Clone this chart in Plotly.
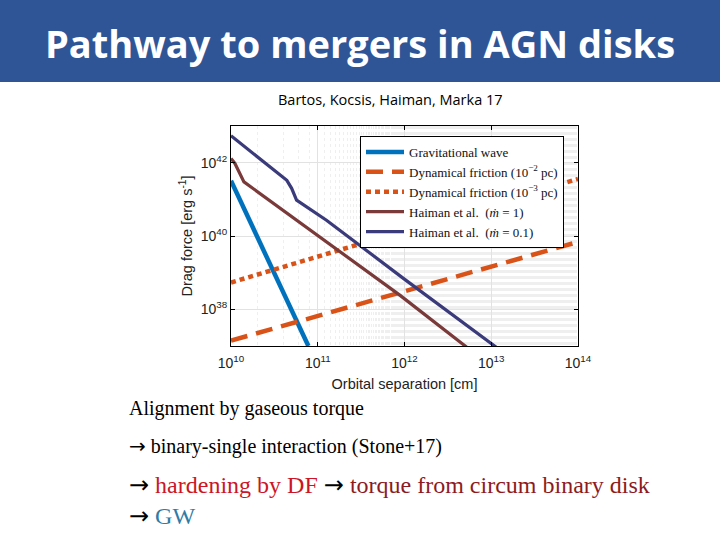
import plotly.graph_objects as go

# orbital separation [cm] and drag force [erg/s]
gw_sep = [1.0e10, 7.8e10]
gw_force = [3.2e41, 1.0e37]

df2_sep = [1.0e10, 1.0e14]
df2_force = [1.4e37, 6.9e39]

df3_sep = [1.0e10, 1.0e14]
df3_force = [5.4e38, 3.6e41]

haiman1_sep = [1.0e10, 1.11e10, 1.41e10, 8.9e11, 5.3e12]
haiman1_force = [1.3e42, 9.5e41, 3.0e41, 2.4e38, 9.0e36]

haiman01_sep = [1.0e10, 4.4e10, 5.0e10, 5.7e10, 1.26e11, 9.7e11, 1.16e13]
haiman01_force = [5.4e42, 3.3e41, 2.0e41, 9.5e40, 2.7e40, 7.0e38, 9.0e36]

xticks = [1e10, 1e11, 1e12, 1e13, 1e14]
xtick_text = ["10<sup>10</sup>", "10<sup>11</sup>", "10<sup>12</sup>", "10<sup>13</sup>", "10<sup>14</sup>"]
yticks = [1e38, 1e40, 1e42]
ytick_text = ["10<sup>38</sup>", "10<sup>40</sup>", "10<sup>42</sup>"]

names = ["Gravitational wave",
         "Dynamical friction (10<sup>−2</sup> pc)",
         "Dynamical friction (10<sup>−3</sup> pc)",
         "Haiman et al.  (<i>ṁ</i> = 1)",
         "Haiman et al.  (<i>ṁ</i> = 0.1)"]

fig = go.Figure()
fig.add_trace(go.Scatter(x=gw_sep, y=gw_force, mode="lines", name=names[0],
                         line=dict(color="#0072BD", width=4.5)))
fig.add_trace(go.Scatter(x=df2_sep, y=df2_force, mode="lines", name=names[1],
                         line=dict(color="#D95319", width=4.5, dash="17px,9px")))
fig.add_trace(go.Scatter(x=df3_sep, y=df3_force, mode="lines", name=names[2],
                         line=dict(color="#D95319", width=4.5, dash="5px,4px")))
fig.add_trace(go.Scatter(x=haiman1_sep, y=haiman1_force, mode="lines", name=names[3],
                         line=dict(color="#7A3A3A", width=3.2)))
fig.add_trace(go.Scatter(x=haiman01_sep, y=haiman01_force, mode="lines", name=names[4],
                         line=dict(color="#3B3B7C", width=3.2)))

W, H = 720, 540
x0, x1 = 231 / W, 578 / W
y0, y1 = 1 - 346 / H, 1 - 126 / H

axis_font = dict(family="Liberation Sans", size=14, color="#222222")
fig.update_xaxes(type="log", range=[10, 14], domain=[x0, x1], automargin=False,
                 tickvals=xticks, ticktext=xtick_text, ticklabelstandoff=4,
                 showline=True, linecolor="black", linewidth=1, mirror="ticks",
                 ticks="inside", ticklen=4, tickcolor="black",
                 showgrid=True, gridcolor="#e2e2e2", gridwidth=1,
                 minor=dict(showgrid=True, gridcolor="#efefef", griddash="dot", ticks=""),
                 tickfont=axis_font,
                 title=dict(text="Orbital separation [cm]", standoff=9,
                            font=dict(family="Liberation Sans", size=14.5, color="#222222")),
                 zeroline=False)
fig.update_yaxes(type="log", range=[37, 43], domain=[y0, y1], automargin=False,
                 tickvals=yticks, ticktext=ytick_text,
                 showline=True, linecolor="black", linewidth=1, mirror="ticks",
                 ticks="inside", ticklen=4, tickcolor="black",
                 showgrid=True, gridcolor="#e2e2e2", gridwidth=1,
                 tickfont=axis_font,
                 title=dict(text="Drag force [erg s<sup>-1</sup>]", standoff=4,
                            font=dict(family="Liberation Sans", size=14.5, color="#222222")),
                 zeroline=False)

fig.update_layout(
    width=W, height=H,
    margin=dict(l=0, r=0, t=0, b=0, autoexpand=False),
    paper_bgcolor="white", plot_bgcolor="white",
    legend=dict(x=360 / W, y=1 - 136 / H, xanchor="left", yanchor="top",
                bgcolor="white", bordercolor="black", borderwidth=1,
                font=dict(family="Liberation Serif", size=13, color="#111111"),
                tracegroupgap=0, itemwidth=38),
    shapes=[dict(type="rect", xref="paper", yref="paper", x0=0, x1=1, y0=1 - 82 / H, y1=1,
                 fillcolor="#2F5597", line=dict(width=0), layer="below")],
)

arrow = "<span style='font-family:DejaVu Sans'>→</span>"
ann = [
    dict(text="<b>Pathway to mergers in AGN disks</b>", x=0.5, y=1 - 43 / H,
         font=dict(family="Open Sans", size=38, color="white")),
    dict(text="Bartos, Kocsis, Haiman, Marka 17", x=391 / W, y=1 - 100 / H,
         font=dict(family="Open Sans", size=14.5, color="black")),
    dict(text="Alignment by gaseous torque", x=127 / W, y=1 - 408 / H, xanchor="left",
         font=dict(family="Liberation Serif", size=20, color="black")),
    dict(text=arrow + " binary-single interaction (Stone+17)", x=127 / W, y=1 - 446 / H, xanchor="left",
         font=dict(family="Liberation Serif", size=20, color="black")),
    dict(text=arrow + " <span style='color:#CC1526'>hardening by DF</span> " + arrow + " "
              "<span style='color:#8E1A1F'>torque from circum binary disk</span>",
         x=127 / W, y=1 - 485 / H, xanchor="left",
         font=dict(family="Liberation Serif", size=24, color="black")),
    dict(text=arrow + " <span style='color:#2F7CA6'>GW</span>", x=127 / W, y=1 - 516 / H, xanchor="left",
         font=dict(family="Liberation Serif", size=24, color="black")),
]
for a in ann:
    a.update(xref="paper", yref="paper", showarrow=False)
    if "xanchor" not in a:
        a["xanchor"] = "center"
    a["yanchor"] = "middle"
fig.update_layout(annotations=ann)

fig.write_html("out.html", config={"displayModeBar": False},
               post_script="document.body.style.margin='0';")
